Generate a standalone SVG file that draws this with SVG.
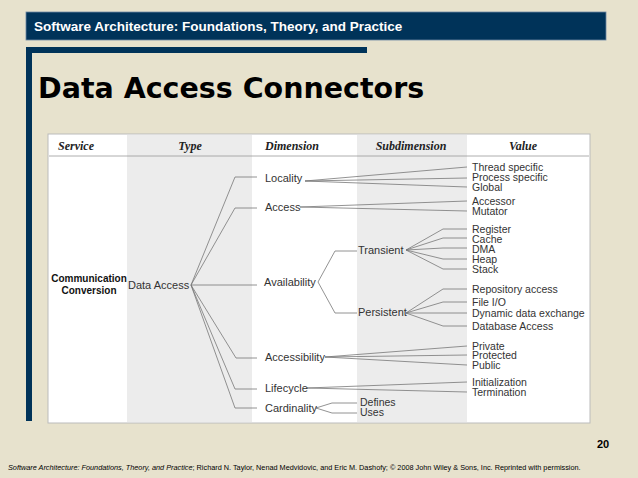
<svg xmlns="http://www.w3.org/2000/svg" width="638" height="478" viewBox="0 0 638 478">
<style>
.t{font-family:"Liberation Sans",Arial,sans-serif;font-size:11px;fill:#333}
.v{font-family:"Liberation Sans",Arial,sans-serif;font-size:10.5px;fill:#333}
.h{font-family:"Liberation Serif","Times New Roman",serif;font-size:12px;font-weight:bold;font-style:italic;fill:#222}
.c{fill:none;stroke:#777;stroke-width:0.8}
</style>
<rect width="638" height="478" fill="#e7e2cd"/>
<rect x="26" y="12" width="580" height="28" fill="#003359" stroke="#6b87a3" stroke-width="0.8"/>
<text x="34" y="31" font-family="Liberation Sans,Arial,sans-serif" font-size="13.5" font-weight="bold" fill="#fff">Software Architecture: Foundations, Theory, and Practice</text>
<rect x="26" y="47" width="341" height="6" fill="#003359"/>
<rect x="26" y="47" width="6" height="374" fill="#003359"/>
<text x="38" y="98" font-family="DejaVu Sans,Verdana,sans-serif" font-size="28.5" font-weight="bold" fill="#000">Data Access Connectors</text>
<g id="table">
<rect x="48" y="134" width="542" height="289" fill="#fff" stroke="#bbb"/>
<rect x="127" y="135" width="125" height="287" fill="#ececec"/>
<rect x="357" y="135" width="110" height="287" fill="#ececec"/>
<line x1="49" y1="156" x2="589" y2="156" stroke="#999" stroke-width="0.8"/>
<text class="h" x="58" y="150">Service</text>
<text class="h" x="190" y="150" text-anchor="middle">Type</text>
<text class="h" x="292" y="150" text-anchor="middle">Dimension</text>
<text class="h" x="411" y="150" text-anchor="middle">Subdimension</text>
<text class="h" x="523" y="150" text-anchor="middle">Value</text>
</g>
<g id="connectors">
<path class="c" d="M191 285 L235 177 H257 M191 285 L235 208 H257 M191 285 H257 M191 285 L236 358 H257 M191 285 L235 389 H257 M191 285 L235 408 H257"/>
<path class="c" d="M305 181 L467 167 M305 181 L467 178 M305 181 L467 187"/>
<path class="c" d="M300 207 L467 201 M300 207 L467 211"/>
<path class="c" d="M318 282 L335 251 H357 M318 282 L335 313 H357"/>
<path class="c" d="M406 250 L443 229 H467 M406 250 L443 238 H467 M406 250 L443 248 H467 M406 250 L443 259 H467 M406 250 L443 269 H467"/>
<path class="c" d="M406 313 L443 289 H467 M406 313 L443 302 H467 M406 313 L443 313 H467 M406 313 L443 326 H467"/>
<path class="c" d="M325 357 L467 346 M325 357 L467 355 M325 357 L467 365"/>
<path class="c" d="M307 388 L467 382 M307 388 L467 392"/>
<path class="c" d="M316 408 L332 403 H357 M316 408 L332 413 H357"/>
</g>
<g id="service"><text x="89" y="282" text-anchor="middle" font-family="Liberation Sans,Arial,sans-serif" font-size="10" font-weight="bold" fill="#111">Communication</text><text x="89" y="294" text-anchor="middle" font-family="Liberation Sans,Arial,sans-serif" font-size="10" font-weight="bold" fill="#111">Conversion</text></g>
<g id="type"><text class="t" x="128" y="289">Data Access</text></g>
<g id="dimensions">
<text class="t" x="265" y="182">Locality</text>
<text class="t" x="265" y="211">Access</text>
<text class="t" x="264" y="286">Availability</text>
<text class="t" x="265" y="361">Accessibility</text>
<text class="t" x="265" y="392">Lifecycle</text>
<text class="t" x="265" y="412">Cardinality</text>
</g>
<g id="subdimensions">
<text class="t" x="358" y="254">Transient</text>
<text class="t" x="358" y="316">Persistent</text>
<text class="v" x="360" y="406">Defines</text>
<text class="v" x="360" y="416">Uses</text>
</g>
<g id="values">
<text class="v" x="472" y="171">Thread specific</text>
<text class="v" x="472" y="181">Process specific</text>
<text class="v" x="472" y="191">Global</text>
<text class="v" x="472" y="205">Accessor</text>
<text class="v" x="472" y="215">Mutator</text>
<text class="v" x="472" y="233">Register</text>
<text class="v" x="472" y="243">Cache</text>
<text class="v" x="472" y="253">DMA</text>
<text class="v" x="472" y="263">Heap</text>
<text class="v" x="472" y="273">Stack</text>
<text class="v" x="472" y="293">Repository access</text>
<text class="v" x="472" y="306">File I/O</text>
<text class="v" x="472" y="317">Dynamic data exchange</text>
<text class="v" x="472" y="330">Database Access</text>
<text class="v" x="472" y="350">Private</text>
<text class="v" x="472" y="359">Protected</text>
<text class="v" x="472" y="369">Public</text>
<text class="v" x="472" y="386">Initialization</text>
<text class="v" x="472" y="396">Termination</text>
</g>
<text x="597" y="448" font-family="Liberation Sans,Arial,sans-serif" font-size="11" font-weight="bold" fill="#000">20</text>
<text x="8" y="470" font-family="Liberation Sans,Arial,sans-serif" font-size="7.3" fill="#000"><tspan font-style="italic">Software Architecture: Foundations, Theory, and Practice</tspan>; Richard N. Taylor, Nenad Medvidovic, and Eric M. Dashofy; © 2008 John Wiley &amp; Sons, Inc. Reprinted with permission.</text>
</svg>
